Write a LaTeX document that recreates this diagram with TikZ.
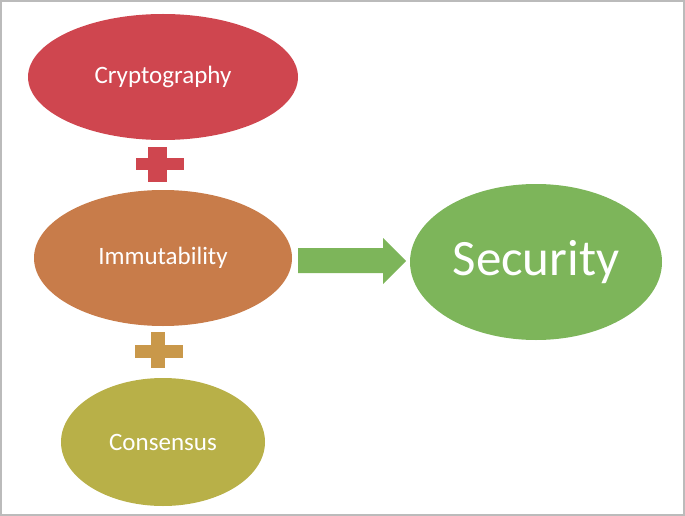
\documentclass[tikz,border=0pt]{standalone}
\usepackage{fontspec}
\setmainfont{Carlito}
\usetikzlibrary{shapes.geometric}
\definecolor{cryptored}{HTML}{CF464F}
\definecolor{immuorange}{HTML}{C87C4A}
\definecolor{consolive}{HTML}{B8B048}
\definecolor{secgreen}{HTML}{7DB55A}
\definecolor{plusgold}{HTML}{C9984A}
\definecolor{framegray}{HTML}{BBBBBB}

\begin{document}
\begin{tikzpicture}[x=1pt, y=-1pt,
                    every node/.style={white, font=\fontsize{25}{29}\selectfont},
                    blob/.style={ellipse, inner sep=0pt}]

  \useasboundingbox (0,0) rectangle (685,516);
  \draw[framegray, line width=2pt] (1,1) rectangle (684,515);

  %% the three ingredients
  \node[blob, fill=cryptored, minimum width=270pt, minimum height=126pt]
    (crypto) at (163,77) {Cryptography};
  \node[blob, fill=immuorange, minimum width=258pt, minimum height=136pt]
    (immu) at (163,258) {Immutability};
  \node[blob, fill=consolive, minimum width=204pt, minimum height=128pt]
    (cons) at (163,442) {Consensus};

  %% the result
  \node[blob, fill=secgreen, minimum width=252pt, minimum height=156pt,
        font=\fontsize{51}{60}\selectfont]
    (sec) at (536,262) {Security};

  %% plus signs
  \fill[cryptored] (136,158) rectangle (184,170);
  \fill[cryptored] (148,147) rectangle (167,182);
  \fill[plusgold] (135,345) rectangle (183,358);
  \fill[plusgold] (151,332) rectangle (165,368);

  %% block arrow towards security
  \fill[secgreen] (298,248) -- (383,248) -- (383,238) -- (406,261)
    -- (383,284) -- (383,273) -- (298,273) -- cycle;

\end{tikzpicture}
\end{document}
